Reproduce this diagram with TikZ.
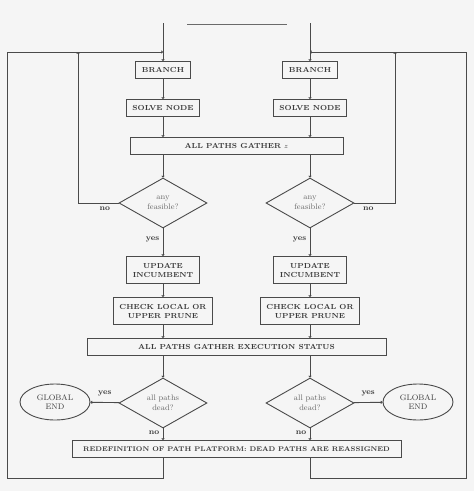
\documentclass[tikz,border=0pt]{standalone}
\usetikzlibrary{arrows.meta,positioning,calc,shapes.geometric}
\definecolor{linegray}{HTML}{4A4A4A}
\definecolor{textgray}{HTML}{3A3A3A}
\definecolor{softgray}{HTML}{6A6A6A}
\definecolor{bggray}{HTML}{F5F5F5}
\begin{document}
\begin{tikzpicture}[x=1pt,y=-1pt, line width=0.9pt, draw=linegray,
	box/.style={rectangle, draw=linegray, text=textgray, font=\fontsize{7.3}{9}\selectfont\bfseries, minimum height=17, inner xsep=6, inner ysep=2, align=center},
	choice/.style={diamond, draw=linegray, text=softgray, font=\footnotesize, aspect=1.76, minimum width=88, minimum height=50, inner sep=0, align=center},
	terminal/.style={ellipse, draw=linegray, text=textgray, font=\footnotesize, minimum width=70, minimum height=36, inner sep=0, align=center},
	lab/.style={text=textgray, font=\footnotesize\bfseries},
	flow/.style={-{To[length=2pt,width=3pt]}, linegray}]
	
	\fill[bggray] (0,0) rectangle (474,491);
	\useasboundingbox (0,0) rectangle (474,491);
	
	% left path
	\node[box] (branchL) at (163,70) {BRANCH};
	\node[box] (solveL) at (163,108) {SOLVE NODE};
	\node[choice] (feasL) at (163,203) {any\\feasible?};
	\node[box, minimum height=27, minimum width=70] (updL) at (163,270) {UPDATE\\INCUMBENT};
	\node[box, minimum height=27, minimum width=95] (checkL) at (163,311) {CHECK LOCAL OR\\UPPER PRUNE};
	\node[choice] (deadL) at (163,403) {all paths\\dead?};
	\node[terminal] (endL) at (55,402) {GLOBAL\\END};
	
	% right path
	\node[box] (branchR) at (310,70) {BRANCH};
	\node[box] (solveR) at (310,108) {SOLVE NODE};
	\node[choice] (feasR) at (310,203) {any\\feasible?};
	\node[box, minimum height=27, minimum width=70] (updR) at (310,270) {UPDATE\\INCUMBENT};
	\node[box, minimum height=27, minimum width=95] (checkR) at (310,311) {CHECK LOCAL OR\\UPPER PRUNE};
	\node[choice] (deadR) at (310,403) {all paths\\dead?};
	\node[terminal] (endR) at (418,402) {GLOBAL\\END};
	
	% shared steps
	\node[box, minimum width=213] (gather) at (236.5,146) {ALL PATHS GATHER $z$};
	\node[box, minimum width=299] (status) at (236.5,347) {ALL PATHS GATHER EXECUTION STATUS};
	\node[box, minimum width=329, font=\fontsize{6.8}{8}\selectfont\bfseries] (redef) at (236.5,449) {REDEFINITION OF PATH PLATFORM: DEAD PATHS ARE REASSIGNED};
	
	% loop corners
	\coordinate (topL) at (163,23);
	\coordinate (inL) at (163,52);
	\coordinate (retL) at (78,52);
	\coordinate (outL) at (7,52);
	\coordinate (botL) at (7,478);
	\coordinate (downL) at (163,478);
	\coordinate (topR) at (310,23);
	\coordinate (inR) at (310,52);
	\coordinate (retR) at (395,52);
	\coordinate (outR) at (466,52);
	\coordinate (botR) at (466,478);
	\coordinate (downR) at (310,478);
	
	\draw[softgray, line width=1pt] (187,24) -- (287,24);
	
	% Arrows
	\foreach \s in {L,R}{
		\draw[flow] (top\s) -- (branch\s);
		\draw[flow] (branch\s) -- (solve\s);
		\draw[flow] (solve\s) -- (solve\s |- gather.north);
		\draw[flow] (solve\s |- gather.south) -- (feas\s);
		\draw[flow] (feas\s) -- node[lab, left, pos=0.4] {yes} (upd\s);
		\draw[flow] (upd\s) -- (check\s);
		\draw[flow] (check\s) -- (check\s |- status.north);
		\draw[flow] (check\s |- status.south) -- (dead\s);
		\draw[flow] (dead\s) -- node[lab, above=3pt] {yes} (end\s);
		\draw[flow] (dead\s) -- node[lab, left, pos=0.35] {no} (dead\s |- redef.north);
		\draw[flow] (redef.south -| down\s) -- (down\s) -- (bot\s) -- (out\s) -- (in\s);
	}
	\draw[flow] (feasL.west) -| node[lab, below, pos=0.17] {no} (retL);
	\draw[flow] (feasR.east) -| node[lab, below, pos=0.17] {no} (retR);
	
\end{tikzpicture}
\end{document}
